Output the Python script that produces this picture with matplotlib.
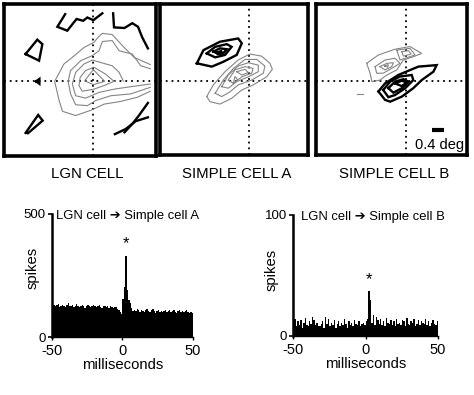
import matplotlib
matplotlib.use('Agg')
import matplotlib.pyplot as plt
import numpy as np

plt.rcParams['font.family'] = ['Liberation Sans', 'DejaVu Sans']

# ---------------- receptive-field maps (contour vertices, deg from crosshair) ----------------
lgn_black = [
    [(-0.94, 2.24), (-1.20, 1.82), (-0.87, 1.69), (-0.56, 2.08), (-0.34, 2.02), (-0.20, 2.13), (0.00, 2.04), (0.30, 2.27)],
    [(0.66, 2.27), (0.69, 1.80), (1.04, 1.78), (1.30, 1.94), (1.49, 1.82), (1.63, 1.47), (1.82, 1.10)],
    [(-2.26, 0.91), (-1.87, 1.39), (-1.70, 1.24), (-1.81, 0.69), (-2.26, 0.91)],
    [(-1.91, 0.0), (-1.80, 0.08), (-1.80, -0.08), (-1.91, 0.0)],
    [(-2.26, -1.72), (-1.84, -1.12), (-1.69, -1.31), (-2.18, -1.73)],
    [(1.82, -0.72), (1.52, -1.14), (1.30, -1.42), (1.04, -1.70)],
    [(0.72, -1.76), (1.08, -1.59), (1.41, -1.33), (1.82, -1.20)],
]
lgn_gray = [
    [(1.90, 0.56), (1.36, 0.80), (0.97, 1.19), (0.63, 1.56), (0.30, 1.60), (0.16, 1.47), (0.02, 1.30), (-0.31, 1.13),
     (-0.70, 0.80), (-0.98, 0.58), (-1.29, 0.0), (-1.14, -0.64), (-1.03, -1.00), (-0.59, -1.14), (-0.07, -0.96),
     (0.36, -0.76), (0.91, -0.67), (1.47, -0.53), (1.90, -0.33)],
    [(1.90, 0.42), (1.58, 0.52), (1.30, 0.91), (0.86, 1.02), (0.63, 1.36), (0.30, 1.33), (0.19, 1.02), (-0.03, 0.86),
     (-0.42, 0.69), (-0.76, 0.36), (-0.84, 0.0), (-0.76, -0.42), (-0.59, -0.78), (-0.20, -0.81), (0.08, -0.64),
     (0.58, -0.48), (1.24, -0.42), (1.90, -0.20)],
    [(1.00, 0.01), (0.86, 0.30), (0.63, 0.52), (0.24, 0.63), (-0.03, 0.71), (-0.31, 0.58), (-0.59, 0.30),
     (-0.70, -0.09), (-0.59, -0.48), (-0.26, -0.56), (0.19, -0.37), (0.69, -0.26), (1.24, -0.18), (1.90, -0.09)],
    [(0.69, 0.0), (0.41, 0.24), (0.02, 0.47), (-0.26, 0.36), (-0.44, 0.13), (-0.48, -0.14), (-0.37, -0.33),
     (0.02, -0.26), (0.36, -0.14), (0.69, 0.0)],
    [(0.0, 0.39), (0.38, 0.0), (0.0, -0.11), (-0.29, 0.02), (0.0, 0.39)],
]

simA_black = [
    [(-1.74, 0.59), (-1.52, 1.03), (-0.97, 1.31), (-0.36, 1.42), (-0.24, 1.26), (-0.41, 0.87), (-0.86, 0.64), (-1.24, 0.48), (-1.74, 0.59)],
    [(-1.41, 0.92), (-1.13, 1.14), (-0.74, 1.23), (-0.58, 1.14), (-0.80, 0.87), (-1.13, 0.79), (-1.41, 0.92)],
    [(-1.19, 0.98), (-0.97, 1.09), (-0.74, 1.06), (-0.91, 0.87), (-1.19, 0.98)],
    [(-1.08, 0.94), (-0.93, 1.00), (-0.89, 0.92), (-1.04, 0.90), (-1.08, 0.94)],
]
simA_gray = [
    [(-1.41, -0.52), (-1.19, -0.13), (-0.80, 0.31), (-0.36, 0.70), (0.03, 0.90), (0.42, 0.83), (0.70, 0.59), (0.78, 0.39),
     (0.59, 0.14), (0.14, -0.13), (-0.24, -0.30), (-0.58, -0.58), (-0.97, -0.77), (-1.30, -0.69), (-1.41, -0.52)],
    [(-1.13, -0.41), (-0.86, 0.03), (-0.52, 0.42), (-0.13, 0.72), (0.26, 0.72), (0.53, 0.50), (0.48, 0.26), (0.09, 0.03),
     (-0.36, -0.13), (-0.63, -0.36), (-0.91, -0.52), (-1.13, -0.41)],
    [(-0.91, -0.19), (-0.69, 0.20), (-0.36, 0.50), (-0.02, 0.61), (0.31, 0.53), (0.31, 0.31), (-0.02, 0.14), (-0.41, -0.02),
     (-0.69, -0.24), (-0.91, -0.19)],
    [(-0.69, 0.03), (-0.47, 0.37), (-0.13, 0.48), (0.14, 0.42), (0.09, 0.26), (-0.24, 0.14), (-0.52, -0.08), (-0.69, 0.03)],
    [(-0.41, 0.31), (-0.13, 0.39), (-0.02, 0.28), (-0.24, 0.20), (-0.41, 0.31)],
    [(-0.52, -0.08), (-0.47, 0.15), (-0.38, 0.05), (-0.52, -0.08)],
]

simB_black = [
    [(-0.92, -0.34), (-0.70, -0.07), (-0.26, 0.21), (0.41, 0.49), (1.02, 0.54), (0.91, 0.32), (0.52, 0.04), (0.24, -0.23),
     (-0.14, -0.51), (-0.53, -0.68), (-0.70, -0.62), (-0.92, -0.34)],
    [(-0.76, -0.29), (-0.53, -0.01), (-0.20, 0.16), (0.19, 0.21), (0.24, 0.04), (-0.03, -0.23), (-0.37, -0.46),
     (-0.59, -0.53), (-0.76, -0.29)],
    [(-0.59, -0.23), (-0.37, -0.01), (-0.09, 0.07), (0.08, -0.01), (-0.14, -0.23), (-0.42, -0.38), (-0.59, -0.23)],
    [(-0.37, -0.07), (-0.14, 0.02), (0.02, -0.04), (-0.14, -0.16), (-0.37, -0.07)],
]
simB_gray = [
    [(-1.31, 0.60), (-0.92, 0.88), (-0.37, 1.07), (0.13, 1.16), (0.52, 0.93), (0.24, 0.82), (-0.09, 0.71), (-0.31, 0.38),
     (-0.64, 0.21), (-0.87, 0.04), (-1.14, -0.01), (-1.20, 0.27), (-1.31, 0.60)],
    [(-1.03, 0.49), (-0.70, 0.71), (-0.37, 0.77), (-0.20, 0.60), (-0.48, 0.43), (-0.76, 0.27), (-0.98, 0.27), (-1.03, 0.49)],
    [(-0.87, 0.49), (-0.64, 0.60), (-0.42, 0.62), (-0.48, 0.49), (-0.70, 0.38), (-0.87, 0.49)],
    [(-0.72, 0.51), (-0.59, 0.56), (-0.61, 0.47), (-0.72, 0.51)],
    [(-0.31, 1.04), (0.13, 1.10), (0.30, 0.88), (-0.20, 0.71), (-0.31, 1.04)],
    [(-0.14, 0.99), (0.08, 1.02), (0.17, 0.91), (-0.09, 0.84), (-0.14, 0.99)],
    [(-1.64, -0.42), (-1.42, -0.42)],
]

panel_titles = ["LGN CELL", "SIMPLE CELL A", "SIMPLE CELL B"]
scale_bar_deg = 0.4

# ---------------- cross-correlograms (1 ms bins, -50..50 ms) ----------------
bin_edges_ms = list(range(-50, 51))
counts_A = [128, 132, 125, 130, 135, 122, 127, 131, 126, 120,
            129, 137, 124, 127, 130, 121, 126, 134, 128, 123,
            125, 130, 127, 119, 124, 129, 126, 122, 128, 131,
            124, 120, 126, 129, 123, 118, 125, 127, 121, 124,
            119, 126, 122, 117, 123, 120, 115, 110, 100, 94,
            155, 205, 330, 190, 150, 138, 118, 104, 110, 106,
            113, 108, 103, 111, 107, 102, 109, 114, 105, 101,
            108, 112, 104, 99, 106, 110, 103, 107, 101, 105,
            109, 102, 106, 111, 100, 104, 108, 103, 98, 105,
            110, 102, 106, 100, 104, 108, 101, 97, 103, 99]
counts_B = [10, 14, 8, 12, 9, 13, 7, 11, 15, 9,
            8, 12, 10, 16, 13, 9, 11, 8, 8, 10,
            12, 7, 16, 10, 14, 8, 11, 9, 13, 7,
            10, 12, 8, 11, 9, 14, 10, 7, 12, 9,
            11, 8, 13, 10, 9, 12, 8, 10, 11, 9,
            12, 14, 37, 30, 11, 17, 9, 16, 13, 10,
            14, 9, 12, 8, 15, 11, 10, 13, 9, 12,
            8, 14, 10, 11, 9, 13, 12, 8, 15, 10,
            9, 12, 11, 14, 8, 10, 13, 9, 12, 11,
            10, 14, 9, 12, 8, 11, 13, 10, 9, 12]
ylim_A, ylim_B = 500, 100
corr_titles = ["LGN cell \u2794 Simple cell A", "LGN cell \u2794 Simple cell B"]

# ---------------- figure ----------------
W, H = 474, 395
fig = plt.figure(figsize=(W / 100, H / 100), dpi=100)
fig.patch.set_facecolor('white')


def frac(x0, y0, x1, y1):
    return [x0 / W, 1 - y1 / H, (x1 - x0) / W, (y1 - y0) / H]


map_boxes = [frac(4, 4, 156, 156), frac(160, 4, 308, 155), frac(316, 4, 467, 155)]
map_limits = [((-2.98, 2.09), (-2.49, 2.58)),
              ((-2.97, 1.97), (-2.47, 2.57)),
              ((-3.00, 2.03), (-2.46, 2.58))]
maps = [(lgn_black, lgn_gray), (simA_black, simA_gray), (simB_black, simB_gray)]
title_x = [87, 237, 394]

for i, (box, (xl, yl), (blk, gry)) in enumerate(zip(map_boxes, map_limits, maps)):
    ax = fig.add_axes(box)
    ax.set_xlim(*xl)
    ax.set_ylim(*yl)
    ax.set_xticks([])
    ax.set_yticks([])
    for s in ax.spines.values():
        s.set_linewidth(2.6)
        s.set_color('black')
    ax.axhline(0, color='black', lw=1.3, ls=(0, (1, 2.2)), zorder=1)
    ax.axvline(0, color='black', lw=1.3, ls=(0, (1, 2.2)), zorder=1)
    for line in gry:
        xs, ys = zip(*line)
        ax.plot(xs, ys, color='#858585', lw=0.8, zorder=2, solid_joinstyle='miter')
    for line in blk:
        xs, ys = zip(*line)
        ax.plot(xs, ys, color='black', lw=1.7, zorder=3, solid_joinstyle='miter')
    if i == 2:
        ax.plot([0.85, 0.85 + scale_bar_deg], [-1.62, -1.62], color='black', lw=3, solid_capstyle='butt')
        ax.text(1.12, -2.12, f"{scale_bar_deg} deg", ha='center', va='center', fontsize=10.5)
    fig.text(title_x[i] / W, 1 - 174 / H, panel_titles[i], ha='center', va='center', fontsize=10.8)

# correlograms
corr_boxes = [frac(52, 214, 193, 337), frac(293, 215, 438, 336)]
corr_data = [counts_A, counts_B]
corr_ylims = [ylim_A, ylim_B]
title_offset_ms = [2.8, 5.5]
ylabel_pos = [(-0.085, 0.56), (-0.097, 0.55)]
for k, (box, counts, ymax, title) in enumerate(zip(corr_boxes, corr_data, corr_ylims, corr_titles)):
    ax = fig.add_axes(box)
    edges = np.array(bin_edges_ms)
    vals = np.array(counts)
    ax.bar(edges[:-1], vals, width=1.0, align='edge', color='black', linewidth=0)
    ax.set_xlim(-50, 50)
    ax.set_ylim(0, ymax)
    for side in ['top', 'right']:
        ax.spines[side].set_visible(False)
    ax.spines['left'].set_linewidth(1.8)
    ax.spines['bottom'].set_linewidth(1.0)
    ax.set_yticks([0, ymax])
    ax.set_xticks([-50, 0, 50])
    ax.set_xticklabels(['-50', '0', '50'])
    ax.tick_params(axis='y', length=3, width=1.2, pad=1.5, labelsize=9.5)
    ax.tick_params(axis='x', length=2.5, width=1, pad=2.5, labelsize=10.5)
    ax.set_xlabel('milliseconds', fontsize=10.7, labelpad=0)
    ax.set_ylabel('spikes', fontsize=10.7)
    ax.yaxis.set_label_coords(*ylabel_pos[k])
    ax.text(-50 + title_offset_ms[k], ymax * 0.985, title, ha='left', va='center', fontsize=9.4)
    pk = int(np.argmax(vals))
    ax.text(edges[pk] + 0.5, vals[pk] + ymax * 0.1, '*', ha='center', va='center', fontsize=12)

fig.savefig('out.png', dpi=100)
